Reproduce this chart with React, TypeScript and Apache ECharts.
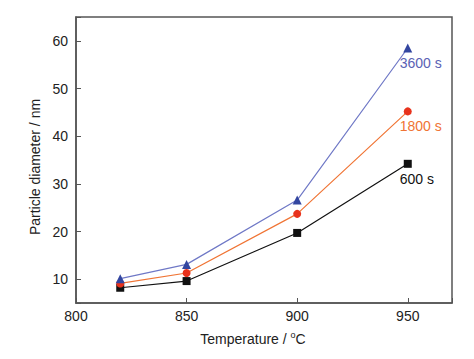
import React, { useEffect, useRef } from "react";
import * as echarts from "echarts";

const temperatures = [820, 850, 900, 950];
const d3600 = [10.1, 13.1, 26.6, 58.5];
const d1800 = [9.1, 11.3, 23.7, 45.2];
const d600 = [8.2, 9.6, 19.7, 34.2];
const seriesNames = ["3600 s", "1800 s", "600 s"];

const FONT = "Liberation Sans, Arial, sans-serif";

function pairs(vals: number[]) {
  return temperatures.map((t, i) => [t, vals[i]]);
}

function makeSeries(
  name: string,
  vals: number[],
  symbol: string,
  symbolSize: number,
  markerColor: string,
  lineColor: string,
  labelColor: string,
  labelOffset: number[]
) {
  const data: any[] = pairs(vals).map((p, i) =>
    i === vals.length - 1
      ? {
          value: p,
          label: {
            show: true,
            position: "bottom",
            distance: 4,
            offset: labelOffset,
            formatter: name,
            color: labelColor,
            fontSize: 14,
            fontFamily: FONT,
          },
        }
      : p
  );
  return {
    name,
    type: "line",
    data,
    symbol,
    symbolSize,
    itemStyle: { color: markerColor },
    lineStyle: { color: lineColor, width: 1.2 },
    z: 3,
  };
}

export default function App() {
  const ref = useRef<HTMLDivElement>(null);
  useEffect(() => {
    document.body.style.margin = "0";
    if (!ref.current) return;
    const chart = echarts.init(ref.current, undefined, { renderer: "svg" });
    chart.setOption({
      animation: false,
      backgroundColor: "#fff",
      grid: {
        left: 76,
        right: 22,
        top: 17,
        bottom: 56,
        show: true,
        borderColor: "#555",
        borderWidth: 1.5,
      },
      xAxis: {
        type: "value",
        min: 800,
        max: 970,
        interval: 50,
        name: "Temperature / {sup|o}C",
        nameLocation: "middle",
        nameGap: 27,
        nameTextStyle: {
          fontSize: 14,
          color: "#222",
          fontFamily: FONT,
          padding: [0, 22, 0, 0],
          rich: {
            sup: { fontSize: 9, verticalAlign: "top", color: "#222", fontFamily: FONT, padding: [0, 0, 8, 0] },
          },
        },
        axisLine: { show: true, lineStyle: { color: "#555", width: 1.5 } },
        axisTick: { show: true, inside: true, length: 5, lineStyle: { color: "#555" } },
        axisLabel: {
          fontSize: 14,
          color: "#222",
          fontFamily: FONT,
          margin: 6,
          formatter: (v: number) => (v % 50 === 0 && v <= 950 ? String(v) : ""),
        },
        splitLine: { show: false },
      },
      yAxis: {
        type: "value",
        min: 5,
        max: 65,
        splitNumber: 6,
        name: "Particle diameter / nm",
        nameLocation: "middle",
        nameGap: 31,
        nameTextStyle: { fontSize: 14, color: "#222", fontFamily: FONT, padding: [0, 14, 0, 0] },
        axisLine: { show: true, lineStyle: { color: "#555", width: 1.5 } },
        axisTick: { show: true, inside: true, length: 5, lineStyle: { color: "#555" } },
        axisLabel: {
          fontSize: 14,
          color: "#222",
          fontFamily: FONT,
          margin: 8,
          formatter: (v: number) => (v % 10 === 0 ? String(v) : ""),
        },
        splitLine: { show: false },
      },
      series: [
        makeSeries(seriesNames[2], d600, "rect", 8, "#111", "#111", "#111", [9, 0]),
        makeSeries(seriesNames[1], d1800, "circle", 8, "#e8321c", "#f07434", "#f07434", [13, 0]),
        makeSeries(seriesNames[0], d3600, "triangle", 9, "#3346a0", "#6f78c6", "#5a62b4", [13, 0]),
      ],
    });
    return () => chart.dispose();
  }, []);
  return <div ref={ref} style={{ width: 474, height: 359 }} />;
}
